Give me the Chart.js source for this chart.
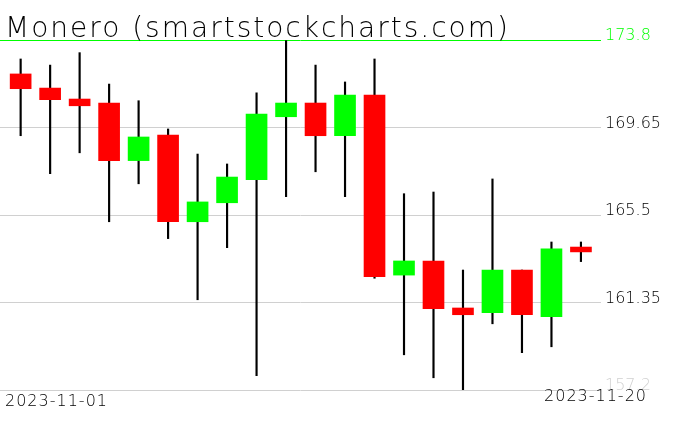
<!DOCTYPE html>
<html>
<head>
<meta charset="utf-8">
<script src="https://cdn.jsdelivr.net/npm/chart.js@4.4.0/dist/chart.umd.min.js"></script>
<style>
  html, body { margin: 0; padding: 0; background: #fff; }
  #wrap { width: 676px; height: 431px; }
</style>
</head>
<body>
<div id="wrap"><canvas id="xmrChart"></canvas></div>
<script>
    var dates = [
        "2023-11-01", "2023-11-02", "2023-11-03", "2023-11-04", "2023-11-05",
        "2023-11-06", "2023-11-07", "2023-11-08", "2023-11-09", "2023-11-10",
        "2023-11-11", "2023-11-12", "2023-11-13", "2023-11-14", "2023-11-15",
        "2023-11-16", "2023-11-17", "2023-11-18", "2023-11-19", "2023-11-20"
    ];
    var opens  = [172.19, 171.52, 171.00, 170.81, 168.08, 169.29, 165.18, 166.08, 167.17, 170.16,
                  170.81, 169.26, 171.19, 162.65, 163.32, 161.09, 160.87, 162.89, 160.68, 163.98];
    var highs  = [172.90, 172.61, 173.20, 171.71, 170.92, 169.58, 168.39, 167.92, 171.29, 173.77,
                  172.61, 171.81, 172.90, 166.51, 166.59, 162.89, 167.21, 162.89, 164.22, 164.22];
    var lows   = [169.26, 167.46, 168.45, 165.18, 166.98, 164.38, 161.48, 163.95, 157.88, 166.37,
                  167.55, 166.37, 162.50, 158.87, 157.78, 157.21, 160.34, 158.97, 159.25, 163.29];
    var closes = [171.49, 170.97, 170.68, 168.08, 169.20, 165.18, 166.12, 167.30, 170.29, 170.81,
                  169.26, 171.19, 162.57, 163.32, 161.06, 160.77, 162.89, 160.77, 163.89, 163.75];
    var tickValues = [157.2, 161.35, 165.5, 169.65, 173.8];
    var tickLabels = ["157.2", "161.35", "165.5", "169.65", "173.8"];

    var titleText = "Monero (smartstockcharts.com)";
    var UP = "#00ff00", DOWN = "#ff0000";

    window.onload = function() {
        var bodies = [], wicks = [], colors = [];
        for (var i = 0; i < dates.length; i++) {
            bodies.push({ x: i + 1, y: [opens[i], closes[i]] });
            wicks.push({ x: i + 1, y: [lows[i], highs[i]] });
            colors.push(closes[i] >= opens[i] ? UP : DOWN);
        }

        // title and first/last date, drawn straight on the canvas
        var textPlugin = {
            id: 'textBits',
            afterDraw: function(chart) {
                var c = chart.ctx;
                c.save();
                c.fillStyle = "#000";
                c.textBaseline = "alphabetic";
                c.textAlign = "left";
                c.font = '200 28px "DejaVu Sans"';
                c.letterSpacing = "2px";
                c.fillText(titleText, 5, 37);
                c.font = '200 16px "DejaVu Sans"';
                c.letterSpacing = "1px";
                c.fillText(dates[0], 5, 406);
                c.textAlign = "right";
                c.fillText(dates[dates.length - 1], 647, 401);
                c.restore();
            }
        };

        new Chart("xmrChart", {
            type: 'bar',
            data: {
                datasets: [{
                    label: "body",
                    data: bodies,
                    backgroundColor: colors,
                    borderWidth: 0,
                    barThickness: 21,
                    grouped: false,
                    order: 1
                }, {
                    label: "wick",
                    data: wicks,
                    backgroundColor: "#000",
                    borderWidth: 0,
                    barThickness: 1.5,
                    grouped: false,
                    order: 2
                }]
            },
            options: {
                responsive: true,
                maintainAspectRatio: false,
                animation: false,
                layout: { padding: { top: 40, bottom: 41, left: 0, right: 0 } },
                plugins: {
                    legend: { display: false },
                    tooltip: { enabled: false }
                },
                scales: {
                    x: {
                        type: 'linear',
                        display: false,
                        offset: false,
                        min: 0.3,
                        max: 20.68
                    },
                    y: {
                        position: 'right',
                        min: 157.2,
                        max: 173.8,
                        border: { display: false },
                        afterBuildTicks: function(axis) {
                            axis.ticks = tickValues.map(function(v) { return { value: v }; });
                        },
                        afterFit: function(axis) { axis.width = 75; },
                        grid: {
                            drawTicks: false,
                            lineWidth: 1,
                            color: function(ctx) {
                                return ctx.index === tickValues.length - 1 ? UP : "#d0d0d0";
                            }
                        },
                        ticks: {
                            padding: 4,
                            crossAlign: 'near',
                            labelOffset: -4,
                            font: { family: '"DejaVu Sans"', size: 16, weight: 200 },
                            color: function(ctx) {
                                if (ctx.index === tickValues.length - 1) return UP;
                                if (ctx.index === 0) return "#d0d0d0";
                                return "#000";
                            },
                            callback: function(v, i) { return tickLabels[i]; }
                        }
                    }
                }
            },
            plugins: [textPlugin]
        });
    }
</script>
</body>
</html>
